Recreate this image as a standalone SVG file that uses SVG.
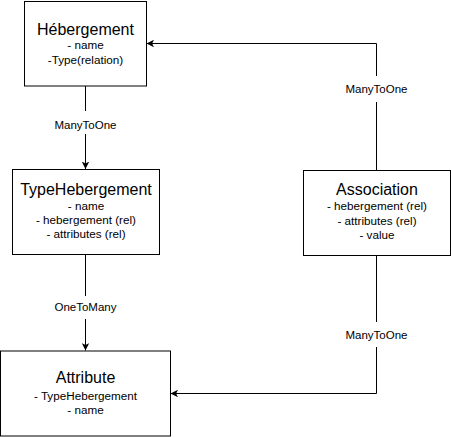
<svg xmlns="http://www.w3.org/2000/svg" width="451" height="437" viewBox="0 0 451 437">
<style>
.box{fill:#fff;stroke:#000;stroke-width:1}
.t{font-family:"Liberation Sans",Arial,Helvetica,sans-serif;fill:#000;text-anchor:middle}
.title{font-size:16px}
.ln{font-size:11.7px}
.el{font-size:11.5px}
.edge{fill:none;stroke:#000;stroke-width:1}
.lbg{fill:#fff;stroke:none}
</style>
<defs>
<marker id="arr" viewBox="0 0 10 10" refX="10" refY="5" markerWidth="7.5" markerHeight="7.5" orient="auto" markerUnits="userSpaceOnUse">
<path d="M0,0 L10,5 L0,10 L2.5,5 Z" fill="#000"/>
</marker>
</defs>
<rect width="451" height="437" fill="#fff"/>
<g id="connectors">
<path class="edge" d="M85.5,86 L85.5,169" marker-end="url(#arr)"/>
<path class="edge" d="M85.5,254.5 L85.5,350.5" marker-end="url(#arr)"/>
<path class="edge" d="M376.5,170.5 L376.5,43.5 L146.5,43.5" marker-end="url(#arr)"/>
<path class="edge" d="M376.5,255.5 L376.5,393.5 L170.5,393.5" marker-end="url(#arr)"/>
<rect class="lbg" x="52" y="111" width="67" height="23"/>
<text class="t el" x="85.5" y="129">ManyToOne</text>
<rect class="lbg" x="52" y="296" width="67" height="23"/>
<text class="t el" x="85.5" y="311">OneToMany</text>
<rect class="lbg" x="343" y="76" width="67" height="26"/>
<text class="t el" x="376.5" y="93">ManyToOne</text>
<rect class="lbg" x="343" y="322" width="67" height="25"/>
<text class="t el" x="376.5" y="338.5">ManyToOne</text>
</g>
<g id="hebergement">
<rect class="box" x="24.5" y="1.5" width="122" height="84.5"/>
<text class="t title" x="85.5" y="34.5">Hébergement</text>
<text class="t ln" x="85.5" y="49">- name</text>
<text class="t ln" x="85.5" y="63.5">-Type(relation)</text>
</g>
<g id="typehebergement">
<rect class="box" x="12.5" y="169.5" width="147" height="85"/>
<text class="t title" x="86" y="195">TypeHebergement</text>
<text class="t ln" x="86" y="210">- name</text>
<text class="t ln" x="86" y="224">- hebergement (rel)</text>
<text class="t ln" x="86" y="238">- attributes (rel)</text>
</g>
<g id="association">
<rect class="box" x="303.5" y="170.5" width="147" height="85"/>
<text class="t title" x="377" y="195">Association</text>
<text class="t ln" x="377" y="210">- hebergement (rel)</text>
<text class="t ln" x="377" y="224.5">- attributes (rel)</text>
<text class="t ln" x="377" y="239">- value</text>
</g>
<g id="attribute">
<rect class="box" x="0.5" y="351" width="170" height="85"/>
<text class="t title" x="85.5" y="383">Attribute</text>
<text class="t ln" x="85.5" y="399.5">- TypeHebergement</text>
<text class="t ln" x="85.5" y="414">- name</text>
</g>
</svg>
